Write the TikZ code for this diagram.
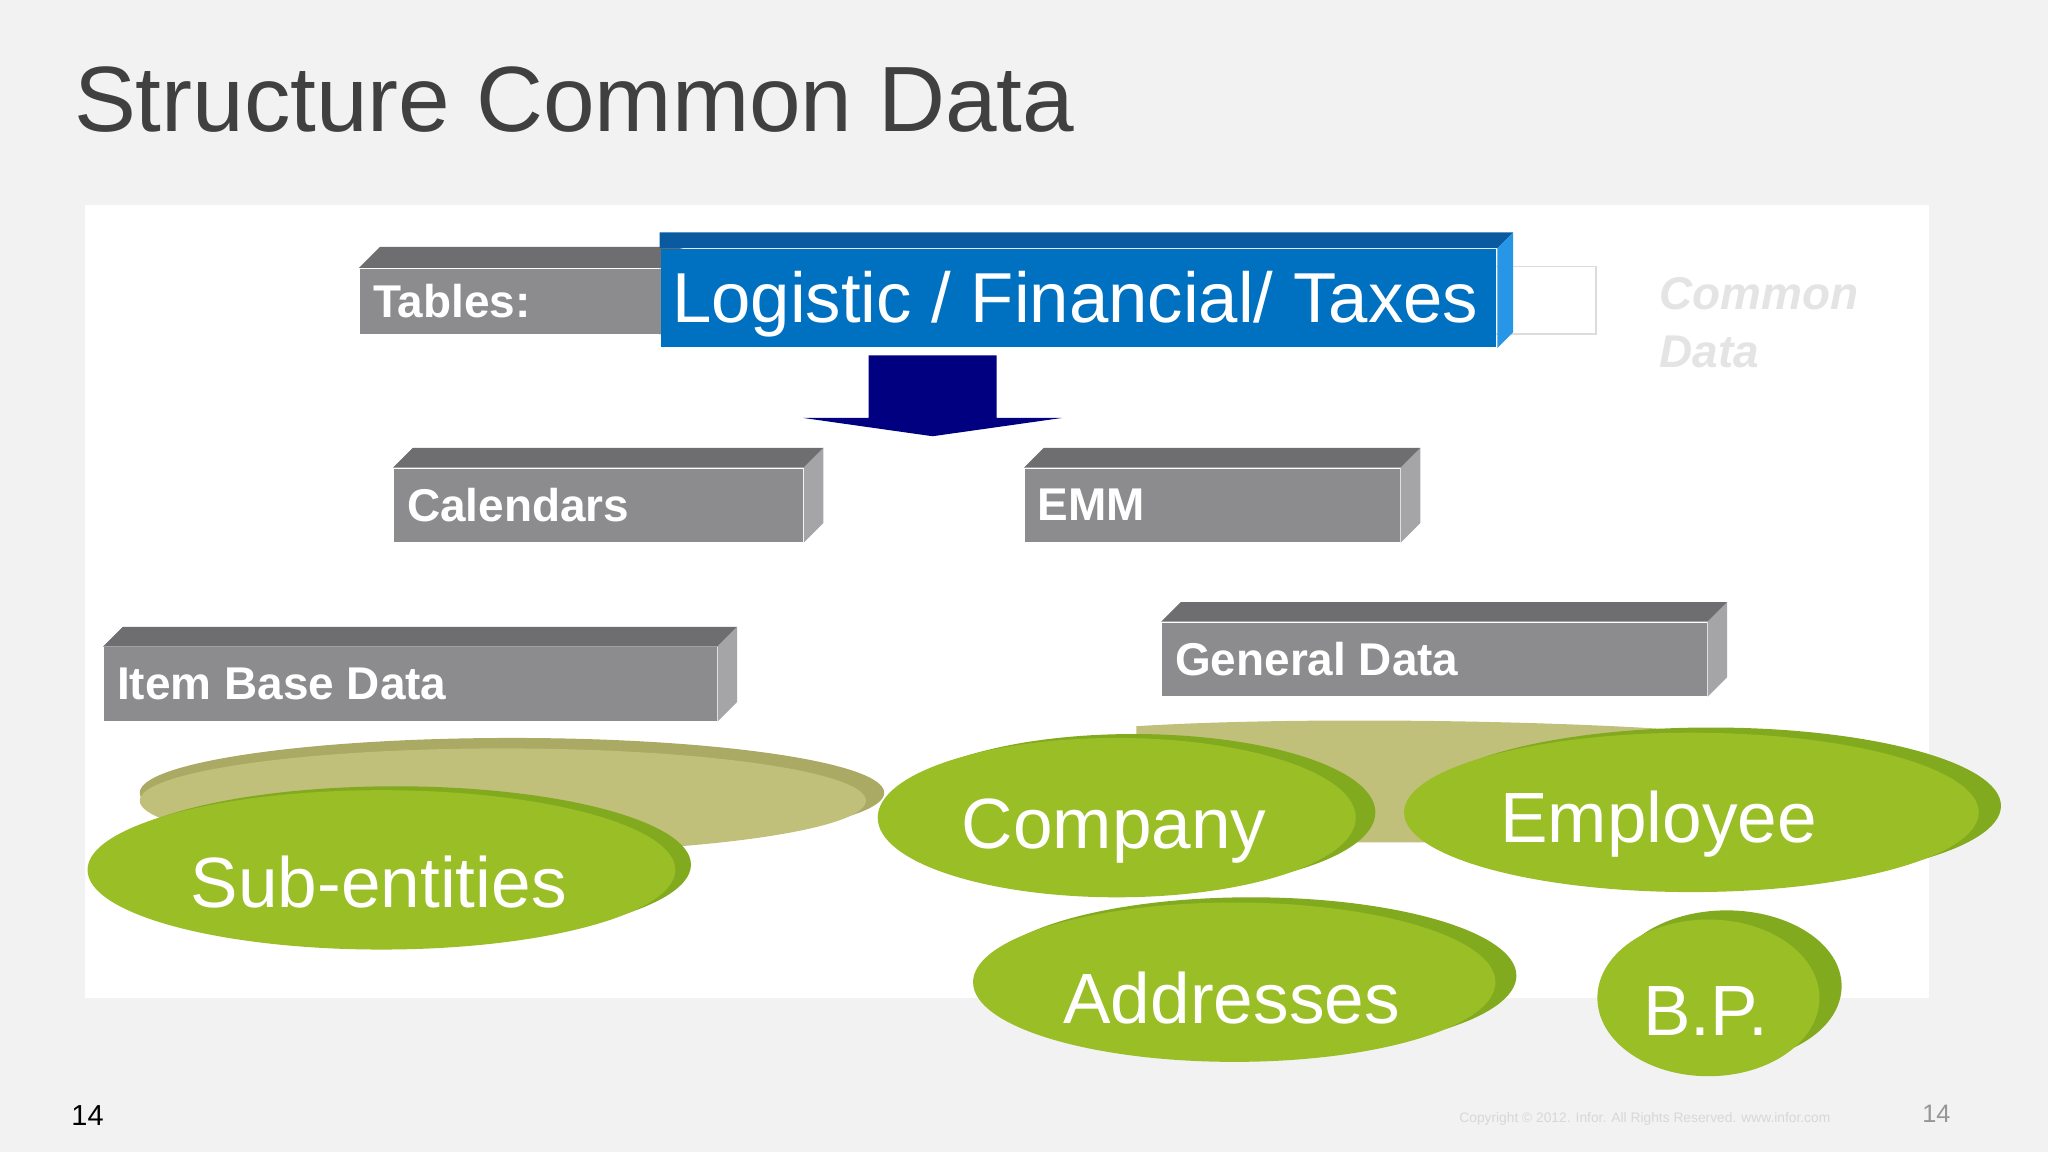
\documentclass[tikz,border=0pt]{standalone}
\usepackage{fontspec}
\setmainfont{Liberation Sans}
\usetikzlibrary{shapes.geometric}
\definecolor{bgc}{RGB}{242,242,242}
\definecolor{barfront}{RGB}{140,140,142}
\definecolor{bartop}{RGB}{110,110,112}
\definecolor{barside}{RGB}{165,165,168}
\definecolor{bluefront}{RGB}{0,112,192}
\definecolor{bluetop}{RGB}{10,90,160}
\definecolor{blueside}{RGB}{40,150,230}
\definecolor{navy}{RGB}{0,0,128}
\definecolor{tan}{RGB}{192,192,122}
\definecolor{tanrim}{RGB}{170,170,100}
\definecolor{grn}{RGB}{154,190,38}
\definecolor{grnrim}{RGB}{130,170,30}
\definecolor{boxline}{RGB}{220,220,220}
\definecolor{titlec}{RGB}{64,64,64}
\definecolor{cdc}{RGB}{228,228,228}
\definecolor{copyc}{RGB}{215,215,220}
\definecolor{pgc}{RGB}{150,150,150}
\tikzset{
 barbox/.style={fill=barfront, inner sep=0pt, anchor=north west, text=white, font=\fontsize{10}{12}\selectfont\bfseries, align=left, text depth=0pt},
 gell/.style={ellipse, fill=grn, text=white, inner sep=0pt, font=\fontsize{16}{18}\selectfont},
}
\newcommand{\mkbar}[8]{% name, x, y, w, h, depth, text, colors prefix
 \node[barbox, fill=#8front, minimum width=#4*0.01cm, minimum height=#5*0.01cm] (#1) at (#2,#3) {};
 \fill[#8top] (#1.north west) -- ++(#6*0.01cm,#6*0.01cm) -- ([shift={(#6*0.01cm,#6*0.01cm)}]#1.north east) -- (#1.north east) -- cycle;
 \fill[#8side] (#1.north east) -- ++(#6*0.01cm,#6*0.01cm) -- ([shift={(#6*0.01cm,#6*0.01cm)}]#1.south east) -- (#1.south east) -- cycle;
 \node[anchor=west, inner sep=0pt, text=white, font=\fontsize{10}{12}\selectfont\bfseries] (#1t) at ([xshift=0.1cm]#1.west) {#7};
}
\begin{document}
\begin{tikzpicture}[x=0.01cm,y=-0.01cm]
\fill[bgc] (0,0) rectangle (1568,882);
\useasboundingbox (0,0) rectangle (1568,882);
\fill[white] (65,157) rectangle (1477,764);
\node[anchor=west, inner sep=0pt, text=titlec, font=\fontsize{20.2}{24}\selectfont] (title) at (56,76) {Structure Common Data};
\node[anchor=west, inner sep=0pt, text=cdc, font=\fontsize{10}{12.5}\selectfont\bfseries\itshape, align=left] (cd) at (1270,247) {Common\\Data};
\draw[boxline] (505,204) rectangle (1222,256);
\mkbar{tables}{275}{205}{230}{50}{16}{Tables:}{bar}
\node[barbox, fill=bluefront, minimum width=640*0.01cm, minimum height=75*0.01cm] (logi) at (505,190) {};
\fill[bluetop] (logi.north west) -- ++(0,0.12cm) -- ([shift={(0.12cm,0.12cm)}]logi.north east) -- (logi.north east) -- cycle;
\fill[blueside] (logi.north east) -- ++(0.12cm,0.12cm) -- ([shift={(0.12cm,0.12cm)}]logi.south east) -- (logi.south east) -- cycle;
\node[anchor=west, inner sep=0pt, text=white, font=\fontsize{15.4}{18}\selectfont] (logit) at ([xshift=0.09cm,yshift=-0.05cm]logi.west) {Logistic / Financial/ Taxes};
\mkbar{cal}{301}{358}{313}{56}{15}{Calendars}{bar}
\mkbar{emm}{784}{358}{287}{56}{15}{EMM}{bar}
\mkbar{item}{79}{495}{469}{56}{15}{Item Base Data}{bar}
\mkbar{gen}{889}{476}{417}{56}{15}{General Data}{bar}
\fill[navy] (665,272) -- (763,272) -- (763,320) -- (813,320) -- (714,334) -- (615,320) -- (665,320) -- cycle;
\fill[tanrim] (392,607) ellipse [x radius=285, y radius=42];
\fill[tan] (385,613) ellipse [x radius=278, y radius=40];
\fill[tan] (870,556) .. controls (1000,548) and (1200,552) .. (1300,560) -- (1300,645) -- (870,645) -- cycle;
\fill[grnrim] (303,662) ellipse [x radius=226, y radius=60];
\node[gell, minimum width=450*0.01cm, minimum height=122*0.01cm] (sub) at (292,666) {};
\node[font=\fontsize{15.5}{18}\selectfont, text=white] (subt) at (290,675) {Sub-entities};
\fill[grnrim] (868,622) ellipse [x radius=185, y radius=60];
\node[gell, minimum width=366*0.01cm, minimum height=122*0.01cm] (comp) at (855,626) {};
\node[font=\fontsize{15.5}{18}\selectfont, text=white] (compt) at (853,636) {Company};
\fill[grnrim] (1310,617) ellipse [x radius=222, y radius=60];
\node[gell, minimum width=440*0.01cm, minimum height=122*0.01cm] (emp) at (1295,622) {};
\node[font=\fontsize{15.5}{18}\selectfont, text=white] (empt) at (1270,631) {Employee};
\fill[grnrim] (958,747) ellipse [x radius=203, y radius=60];
\node[gell, minimum width=400*0.01cm, minimum height=122*0.01cm] (addr) at (945,752) {};
\node[font=\fontsize{15.5}{18}\selectfont, text=white] (addrt) at (943,764) {Addresses};
\fill[grnrim] (1322,755) ellipse [x radius=88, y radius=58];
\node[gell, minimum width=170*0.01cm, minimum height=120*0.01cm] (bp) at (1308,764) {};
\node[font=\fontsize{15.5}{18}\selectfont, text=white] (bpt) at (1306,774) {B.P.};
\node[anchor=west, inner sep=0pt, font=\fontsize{6.3}{7}\selectfont, text=black] (pg) at (54,854) {14};
\node[anchor=east, inner sep=0pt, font=\fontsize{3}{4}\selectfont, text=copyc] (copy) at (1402,857) {Copyright © 2012. Infor. All Rights Reserved. www.infor.com};
\node[anchor=east, inner sep=0pt, font=\fontsize{5.5}{7}\selectfont, text=pgc] (pg2) at (1494,853) {14};
\end{tikzpicture}
\end{document}
